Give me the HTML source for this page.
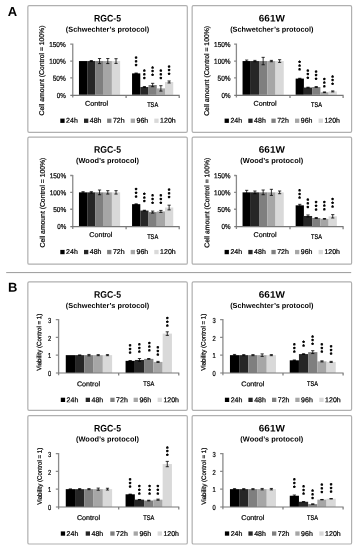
<!DOCTYPE html>
<html><head><meta charset="utf-8"><title>Figure</title>
<style>html,body{margin:0;padding:0;background:#fff}svg{display:block;filter:blur(0.35px)}</style>
</head><body>
<svg width="357" height="550" viewBox="0 0 357 550" font-family='"Liberation Sans", sans-serif'>
<rect width="357" height="550" fill="#fff"/>
<text font-size="13" text-anchor="start" fill="#000" font-weight="bold" transform="translate(7.70 16.00) rotate(0.03)">A</text>
<text font-size="13" text-anchor="start" fill="#000" font-weight="bold" transform="translate(7.90 291.80) rotate(0.03)">B</text>
<path d="M6.2 272.6H351.2" stroke="#9a9a9a" stroke-width="1"/>
<rect x="27.85" y="5.65" width="159.45" height="126.75" rx="1.3" fill="#fff" stroke="#b0b0b0" stroke-width="1.2"/>
<text font-size="9.6" text-anchor="middle" fill="#000" font-weight="bold" transform="translate(107.50 21.50) rotate(0.03) scale(0.9042 1)">RGC-5</text>
<text font-size="7.3" text-anchor="middle" fill="#000" font-weight="bold" transform="translate(107.50 31.70) rotate(0.03) scale(1.0033 1)">(Schwechter’s protocol)</text>
<text font-size="7.2" text-anchor="end" fill="#000" stroke="#000" stroke-width="0.22" transform="translate(65.70 47.00) rotate(0.03) scale(0.8972 1)">150%</text>
<text font-size="7.2" text-anchor="end" fill="#000" stroke="#000" stroke-width="0.22" transform="translate(65.70 63.87) rotate(0.03) scale(0.8972 1)">100%</text>
<text font-size="7.2" text-anchor="end" fill="#000" stroke="#000" stroke-width="0.22" transform="translate(65.70 80.74) rotate(0.03) scale(0.9034 1)">50%</text>
<text font-size="7.2" text-anchor="end" fill="#000" stroke="#000" stroke-width="0.22" transform="translate(65.70 97.61) rotate(0.03) scale(0.8662 1)">0%</text>
<path d="M72.75 43.60V97.60M70.20 44.20H72.75M70.20 61.07H72.75M70.20 77.94H72.75" stroke="#8a8a8a" stroke-width="1.3" fill="none"/>
<text font-size="6.8" text-anchor="middle" fill="#000" stroke="#000" stroke-width="0.22" transform="translate(44.00 70.50) rotate(-89.97) scale(1.0030 1)">Cell amount (Control = 100%)</text>
<rect x="78.95" y="61.06" width="8.24" height="33.74" fill="#000000"/>
<rect x="87.19" y="61.06" width="8.24" height="33.74" fill="#262626"/>
<path d="M91.31 60.55V61.57M89.71 60.55h3.2M89.71 61.57h3.2" stroke="#000" stroke-width="0.8" fill="none"/>
<rect x="95.43" y="61.06" width="8.24" height="33.74" fill="#7f7f7f"/>
<path d="M99.55 58.53V63.59M97.95 58.53h3.2M97.95 63.59h3.2" stroke="#000" stroke-width="0.8" fill="none"/>
<rect x="103.67" y="61.06" width="8.24" height="33.74" fill="#a6a6a6"/>
<path d="M107.79 58.53V63.59M106.19 58.53h3.2M106.19 63.59h3.2" stroke="#000" stroke-width="0.8" fill="none"/>
<rect x="111.91" y="61.06" width="8.24" height="33.74" fill="#d9d9d9"/>
<path d="M116.03 58.70V63.42M114.43 58.70h3.2M114.43 63.42h3.2" stroke="#000" stroke-width="0.8" fill="none"/>
<rect x="132.05" y="73.38" width="8.24" height="21.42" fill="#000000"/>
<path d="M136.17 73.04V73.71M134.57 73.04h3.2M134.57 73.71h3.2" stroke="#000" stroke-width="0.8" fill="none"/>
<rect x="140.29" y="87.04" width="8.24" height="7.76" fill="#262626"/>
<path d="M144.41 86.53V87.55M142.81 86.53h3.2M142.81 87.55h3.2" stroke="#000" stroke-width="0.8" fill="none"/>
<rect x="148.53" y="85.02" width="8.24" height="9.78" fill="#7f7f7f"/>
<path d="M152.65 83.33V86.70M151.05 83.33h3.2M151.05 86.70h3.2" stroke="#000" stroke-width="0.8" fill="none"/>
<rect x="156.77" y="88.39" width="8.24" height="6.41" fill="#a6a6a6"/>
<path d="M160.89 85.69V91.09M159.29 85.69h3.2M159.29 91.09h3.2" stroke="#000" stroke-width="0.8" fill="none"/>
<rect x="165.01" y="81.98" width="8.24" height="12.82" fill="#d9d9d9"/>
<path d="M169.13 80.97V82.99M167.53 80.97h3.2M167.53 82.99h3.2" stroke="#000" stroke-width="0.8" fill="none"/>
<path d="M70.30 95.40H179.70M126.10 95.40v2.6M179.20 95.40v2.6" stroke="#787878" stroke-width="1.2" fill="none"/>
<text font-size="7" text-anchor="middle" fill="#000" stroke="#000" stroke-width="0.22" transform="translate(96.65 105.80) rotate(0.03) scale(1.0231 1)">Control</text>
<text font-size="6.8" text-anchor="middle" fill="#000" stroke="#000" stroke-width="0.22" transform="translate(152.65 107.40) rotate(0.03) scale(0.8322 1)">TSA</text>
<text font-size="5.5" text-anchor="middle" fill="#000" font-weight="bold" transform="translate(136.07 60.25) rotate(0.03)" stroke="#000" stroke-width="0.55" stroke-linejoin="round">*</text>
<text font-size="5.5" text-anchor="middle" fill="#000" font-weight="bold" transform="translate(136.07 63.95) rotate(0.03)" stroke="#000" stroke-width="0.55" stroke-linejoin="round">*</text>
<text font-size="5.5" text-anchor="middle" fill="#000" font-weight="bold" transform="translate(136.07 67.65) rotate(0.03)" stroke="#000" stroke-width="0.55" stroke-linejoin="round">*</text>
<text font-size="5.5" text-anchor="middle" fill="#000" font-weight="bold" transform="translate(144.31 73.25) rotate(0.03)" stroke="#000" stroke-width="0.55" stroke-linejoin="round">*</text>
<text font-size="5.5" text-anchor="middle" fill="#000" font-weight="bold" transform="translate(144.31 76.95) rotate(0.03)" stroke="#000" stroke-width="0.55" stroke-linejoin="round">*</text>
<text font-size="5.5" text-anchor="middle" fill="#000" font-weight="bold" transform="translate(144.31 80.65) rotate(0.03)" stroke="#000" stroke-width="0.55" stroke-linejoin="round">*</text>
<text font-size="5.5" text-anchor="middle" fill="#000" font-weight="bold" transform="translate(152.55 70.15) rotate(0.03)" stroke="#000" stroke-width="0.55" stroke-linejoin="round">*</text>
<text font-size="5.5" text-anchor="middle" fill="#000" font-weight="bold" transform="translate(152.55 73.85) rotate(0.03)" stroke="#000" stroke-width="0.55" stroke-linejoin="round">*</text>
<text font-size="5.5" text-anchor="middle" fill="#000" font-weight="bold" transform="translate(152.55 77.55) rotate(0.03)" stroke="#000" stroke-width="0.55" stroke-linejoin="round">*</text>
<text font-size="5.5" text-anchor="middle" fill="#000" font-weight="bold" transform="translate(160.79 73.25) rotate(0.03)" stroke="#000" stroke-width="0.55" stroke-linejoin="round">*</text>
<text font-size="5.5" text-anchor="middle" fill="#000" font-weight="bold" transform="translate(160.79 76.95) rotate(0.03)" stroke="#000" stroke-width="0.55" stroke-linejoin="round">*</text>
<text font-size="5.5" text-anchor="middle" fill="#000" font-weight="bold" transform="translate(160.79 80.65) rotate(0.03)" stroke="#000" stroke-width="0.55" stroke-linejoin="round">*</text>
<text font-size="5.5" text-anchor="middle" fill="#000" font-weight="bold" transform="translate(169.03 69.15) rotate(0.03)" stroke="#000" stroke-width="0.55" stroke-linejoin="round">*</text>
<text font-size="5.5" text-anchor="middle" fill="#000" font-weight="bold" transform="translate(169.03 72.85) rotate(0.03)" stroke="#000" stroke-width="0.55" stroke-linejoin="round">*</text>
<text font-size="5.5" text-anchor="middle" fill="#000" font-weight="bold" transform="translate(169.03 76.55) rotate(0.03)" stroke="#000" stroke-width="0.55" stroke-linejoin="round">*</text>
<rect x="60.30" y="118.60" width="4.3" height="4.3" fill="#000000"/>
<text font-size="7" text-anchor="start" fill="#000" stroke="#000" stroke-width="0.22" transform="translate(66.10 122.70) rotate(0.03)">24h</text>
<rect x="84.00" y="118.60" width="4.3" height="4.3" fill="#262626"/>
<text font-size="7" text-anchor="start" fill="#000" stroke="#000" stroke-width="0.22" transform="translate(89.80 122.70) rotate(0.03)">48h</text>
<rect x="107.10" y="118.60" width="4.3" height="4.3" fill="#7f7f7f"/>
<text font-size="7" text-anchor="start" fill="#000" stroke="#000" stroke-width="0.22" transform="translate(112.90 122.70) rotate(0.03)">72h</text>
<rect x="130.70" y="118.60" width="4.3" height="4.3" fill="#a6a6a6"/>
<text font-size="7" text-anchor="start" fill="#000" stroke="#000" stroke-width="0.22" transform="translate(136.50 122.70) rotate(0.03)">96h</text>
<rect x="154.30" y="118.60" width="4.3" height="4.3" fill="#d9d9d9"/>
<text font-size="7" text-anchor="start" fill="#000" stroke="#000" stroke-width="0.22" transform="translate(160.10 122.70) rotate(0.03)">120h</text>
<rect x="192.15" y="5.65" width="159.45" height="126.75" rx="1.3" fill="#fff" stroke="#b0b0b0" stroke-width="1.2"/>
<text font-size="9.6" text-anchor="middle" fill="#000" font-weight="bold" transform="translate(271.80 21.50) rotate(0.03) scale(1.0374 1)">661W</text>
<text font-size="7.3" text-anchor="middle" fill="#000" font-weight="bold" transform="translate(271.80 31.70) rotate(0.03) scale(1.0033 1)">(Schwetcher’s protocol)</text>
<text font-size="7.2" text-anchor="end" fill="#000" stroke="#000" stroke-width="0.22" transform="translate(230.60 47.00) rotate(0.03) scale(0.8972 1)">150%</text>
<text font-size="7.2" text-anchor="end" fill="#000" stroke="#000" stroke-width="0.22" transform="translate(230.60 63.87) rotate(0.03) scale(0.8972 1)">100%</text>
<text font-size="7.2" text-anchor="end" fill="#000" stroke="#000" stroke-width="0.22" transform="translate(230.60 80.74) rotate(0.03) scale(0.9034 1)">50%</text>
<text font-size="7.2" text-anchor="end" fill="#000" stroke="#000" stroke-width="0.22" transform="translate(230.60 97.61) rotate(0.03) scale(0.8662 1)">0%</text>
<path d="M236.40 43.60V97.60M234.10 44.20H236.40M234.10 61.07H236.40M234.10 77.94H236.40" stroke="#8a8a8a" stroke-width="1.3" fill="none"/>
<text font-size="6.8" text-anchor="middle" fill="#000" stroke="#000" stroke-width="0.22" transform="translate(208.90 70.90) rotate(-89.97) scale(1.0030 1)">Cell amount (Control = 100%)</text>
<rect x="242.55" y="61.06" width="8.24" height="33.74" fill="#000000"/>
<path d="M246.67 60.05V62.07M245.07 60.05h3.2M245.07 62.07h3.2" stroke="#000" stroke-width="0.8" fill="none"/>
<rect x="250.79" y="61.06" width="8.24" height="33.74" fill="#262626"/>
<path d="M254.91 60.39V61.73M253.31 60.39h3.2M253.31 61.73h3.2" stroke="#000" stroke-width="0.8" fill="none"/>
<rect x="259.03" y="61.06" width="8.24" height="33.74" fill="#7f7f7f"/>
<path d="M263.15 57.35V64.77M261.55 57.35h3.2M261.55 64.77h3.2" stroke="#000" stroke-width="0.8" fill="none"/>
<rect x="267.27" y="61.06" width="8.24" height="33.74" fill="#a6a6a6"/>
<path d="M271.39 60.39V61.73M269.79 60.39h3.2M269.79 61.73h3.2" stroke="#000" stroke-width="0.8" fill="none"/>
<rect x="275.51" y="61.06" width="8.24" height="33.74" fill="#d9d9d9"/>
<path d="M279.63 59.71V62.41M278.03 59.71h3.2M278.03 62.41h3.2" stroke="#000" stroke-width="0.8" fill="none"/>
<rect x="295.65" y="78.60" width="8.24" height="16.20" fill="#000000"/>
<path d="M299.77 78.27V78.94M298.17 78.27h3.2M298.17 78.94h3.2" stroke="#000" stroke-width="0.8" fill="none"/>
<rect x="303.89" y="87.55" width="8.24" height="7.25" fill="#262626"/>
<path d="M308.01 87.21V87.88M306.41 87.21h3.2M306.41 87.88h3.2" stroke="#000" stroke-width="0.8" fill="none"/>
<rect x="312.13" y="87.04" width="8.24" height="7.76" fill="#7f7f7f"/>
<path d="M316.25 86.53V87.55M314.65 86.53h3.2M314.65 87.55h3.2" stroke="#000" stroke-width="0.8" fill="none"/>
<rect x="320.37" y="92.27" width="8.24" height="2.53" fill="#a6a6a6"/>
<path d="M324.49 91.93V92.61M322.89 91.93h3.2M322.89 92.61h3.2" stroke="#000" stroke-width="0.8" fill="none"/>
<rect x="328.61" y="91.43" width="8.24" height="3.37" fill="#d9d9d9"/>
<path d="M332.73 90.92V91.93M331.13 90.92h3.2M331.13 91.93h3.2" stroke="#000" stroke-width="0.8" fill="none"/>
<path d="M234.20 95.40H343.60M290.00 95.40v2.6M343.10 95.40v2.6" stroke="#787878" stroke-width="1.2" fill="none"/>
<text font-size="7" text-anchor="middle" fill="#000" stroke="#000" stroke-width="0.22" transform="translate(265.05 105.80) rotate(0.03) scale(1.0231 1)">Control</text>
<text font-size="6.8" text-anchor="middle" fill="#000" stroke="#000" stroke-width="0.22" transform="translate(316.55 107.40) rotate(0.03) scale(0.8322 1)">TSA</text>
<text font-size="5.5" text-anchor="middle" fill="#000" font-weight="bold" transform="translate(299.67 64.55) rotate(0.03)" stroke="#000" stroke-width="0.55" stroke-linejoin="round">*</text>
<text font-size="5.5" text-anchor="middle" fill="#000" font-weight="bold" transform="translate(299.67 68.25) rotate(0.03)" stroke="#000" stroke-width="0.55" stroke-linejoin="round">*</text>
<text font-size="5.5" text-anchor="middle" fill="#000" font-weight="bold" transform="translate(299.67 71.95) rotate(0.03)" stroke="#000" stroke-width="0.55" stroke-linejoin="round">*</text>
<text font-size="5.5" text-anchor="middle" fill="#000" font-weight="bold" transform="translate(307.91 73.15) rotate(0.03)" stroke="#000" stroke-width="0.55" stroke-linejoin="round">*</text>
<text font-size="5.5" text-anchor="middle" fill="#000" font-weight="bold" transform="translate(307.91 76.85) rotate(0.03)" stroke="#000" stroke-width="0.55" stroke-linejoin="round">*</text>
<text font-size="5.5" text-anchor="middle" fill="#000" font-weight="bold" transform="translate(307.91 80.55) rotate(0.03)" stroke="#000" stroke-width="0.55" stroke-linejoin="round">*</text>
<text font-size="5.5" text-anchor="middle" fill="#000" font-weight="bold" transform="translate(316.15 74.15) rotate(0.03)" stroke="#000" stroke-width="0.55" stroke-linejoin="round">*</text>
<text font-size="5.5" text-anchor="middle" fill="#000" font-weight="bold" transform="translate(316.15 77.85) rotate(0.03)" stroke="#000" stroke-width="0.55" stroke-linejoin="round">*</text>
<text font-size="5.5" text-anchor="middle" fill="#000" font-weight="bold" transform="translate(316.15 81.55) rotate(0.03)" stroke="#000" stroke-width="0.55" stroke-linejoin="round">*</text>
<text font-size="5.5" text-anchor="middle" fill="#000" font-weight="bold" transform="translate(324.39 81.65) rotate(0.03)" stroke="#000" stroke-width="0.55" stroke-linejoin="round">*</text>
<text font-size="5.5" text-anchor="middle" fill="#000" font-weight="bold" transform="translate(324.39 85.35) rotate(0.03)" stroke="#000" stroke-width="0.55" stroke-linejoin="round">*</text>
<text font-size="5.5" text-anchor="middle" fill="#000" font-weight="bold" transform="translate(324.39 89.05) rotate(0.03)" stroke="#000" stroke-width="0.55" stroke-linejoin="round">*</text>
<text font-size="5.5" text-anchor="middle" fill="#000" font-weight="bold" transform="translate(332.63 79.15) rotate(0.03)" stroke="#000" stroke-width="0.55" stroke-linejoin="round">*</text>
<text font-size="5.5" text-anchor="middle" fill="#000" font-weight="bold" transform="translate(332.63 82.85) rotate(0.03)" stroke="#000" stroke-width="0.55" stroke-linejoin="round">*</text>
<text font-size="5.5" text-anchor="middle" fill="#000" font-weight="bold" transform="translate(332.63 86.55) rotate(0.03)" stroke="#000" stroke-width="0.55" stroke-linejoin="round">*</text>
<rect x="224.60" y="118.60" width="4.3" height="4.3" fill="#000000"/>
<text font-size="7" text-anchor="start" fill="#000" stroke="#000" stroke-width="0.22" transform="translate(230.40 122.70) rotate(0.03)">24h</text>
<rect x="248.30" y="118.60" width="4.3" height="4.3" fill="#262626"/>
<text font-size="7" text-anchor="start" fill="#000" stroke="#000" stroke-width="0.22" transform="translate(254.10 122.70) rotate(0.03)">48h</text>
<rect x="271.40" y="118.60" width="4.3" height="4.3" fill="#7f7f7f"/>
<text font-size="7" text-anchor="start" fill="#000" stroke="#000" stroke-width="0.22" transform="translate(277.20 122.70) rotate(0.03)">72h</text>
<rect x="295.00" y="118.60" width="4.3" height="4.3" fill="#a6a6a6"/>
<text font-size="7" text-anchor="start" fill="#000" stroke="#000" stroke-width="0.22" transform="translate(300.80 122.70) rotate(0.03)">96h</text>
<rect x="318.60" y="118.60" width="4.3" height="4.3" fill="#d9d9d9"/>
<text font-size="7" text-anchor="start" fill="#000" stroke="#000" stroke-width="0.22" transform="translate(324.40 122.70) rotate(0.03)">120h</text>
<rect x="27.85" y="137.15" width="159.45" height="127.05" rx="1.3" fill="#fff" stroke="#b0b0b0" stroke-width="1.2"/>
<text font-size="9.6" text-anchor="middle" fill="#000" font-weight="bold" transform="translate(107.50 152.80) rotate(0.03) scale(0.9042 1)">RGC-5</text>
<text font-size="7.3" text-anchor="middle" fill="#000" font-weight="bold" transform="translate(107.50 163.00) rotate(0.03) scale(1.0159 1)">(Wood’s protocol)</text>
<text font-size="7.2" text-anchor="end" fill="#000" stroke="#000" stroke-width="0.22" transform="translate(66.20 178.30) rotate(0.03) scale(0.8972 1)">150%</text>
<text font-size="7.2" text-anchor="end" fill="#000" stroke="#000" stroke-width="0.22" transform="translate(66.20 195.17) rotate(0.03) scale(0.8972 1)">100%</text>
<text font-size="7.2" text-anchor="end" fill="#000" stroke="#000" stroke-width="0.22" transform="translate(66.20 212.04) rotate(0.03) scale(0.9034 1)">50%</text>
<text font-size="7.2" text-anchor="end" fill="#000" stroke="#000" stroke-width="0.22" transform="translate(66.20 228.91) rotate(0.03) scale(0.8662 1)">0%</text>
<path d="M72.75 174.90V228.90M70.20 175.50H72.75M70.20 192.37H72.75M70.20 209.24H72.75" stroke="#8a8a8a" stroke-width="1.3" fill="none"/>
<text font-size="6.8" text-anchor="middle" fill="#000" stroke="#000" stroke-width="0.22" transform="translate(44.80 202.60) rotate(-89.97) scale(1.0030 1)">Cell amount (Control = 100%)</text>
<rect x="78.95" y="192.36" width="8.24" height="33.74" fill="#000000"/>
<path d="M83.07 191.69V193.03M81.47 191.69h3.2M81.47 193.03h3.2" stroke="#000" stroke-width="0.8" fill="none"/>
<rect x="87.19" y="192.36" width="8.24" height="33.74" fill="#262626"/>
<path d="M91.31 191.69V193.03M89.71 191.69h3.2M89.71 193.03h3.2" stroke="#000" stroke-width="0.8" fill="none"/>
<rect x="95.43" y="192.36" width="8.24" height="33.74" fill="#7f7f7f"/>
<path d="M99.55 190.00V194.72M97.95 190.00h3.2M97.95 194.72h3.2" stroke="#000" stroke-width="0.8" fill="none"/>
<rect x="103.67" y="192.36" width="8.24" height="33.74" fill="#a6a6a6"/>
<path d="M107.79 190.67V194.05M106.19 190.67h3.2M106.19 194.05h3.2" stroke="#000" stroke-width="0.8" fill="none"/>
<rect x="111.91" y="192.36" width="8.24" height="33.74" fill="#d9d9d9"/>
<path d="M116.03 190.67V194.05M114.43 190.67h3.2M114.43 194.05h3.2" stroke="#000" stroke-width="0.8" fill="none"/>
<rect x="132.05" y="204.17" width="8.24" height="21.93" fill="#000000"/>
<path d="M136.17 203.83V204.51M134.57 203.83h3.2M134.57 204.51h3.2" stroke="#000" stroke-width="0.8" fill="none"/>
<rect x="140.29" y="210.58" width="8.24" height="15.52" fill="#262626"/>
<path d="M144.41 210.24V210.92M142.81 210.24h3.2M142.81 210.92h3.2" stroke="#000" stroke-width="0.8" fill="none"/>
<rect x="148.53" y="212.10" width="8.24" height="14.00" fill="#7f7f7f"/>
<path d="M152.65 211.09V213.11M151.05 211.09h3.2M151.05 213.11h3.2" stroke="#000" stroke-width="0.8" fill="none"/>
<rect x="156.77" y="211.42" width="8.24" height="14.68" fill="#a6a6a6"/>
<path d="M160.89 210.41V212.44M159.29 210.41h3.2M159.29 212.44h3.2" stroke="#000" stroke-width="0.8" fill="none"/>
<rect x="165.01" y="207.54" width="8.24" height="18.56" fill="#d9d9d9"/>
<path d="M169.13 205.18V209.90M167.53 205.18h3.2M167.53 209.90h3.2" stroke="#000" stroke-width="0.8" fill="none"/>
<path d="M70.30 226.70H179.70M126.10 226.70v2.6M179.20 226.70v2.6" stroke="#787878" stroke-width="1.2" fill="none"/>
<text font-size="7" text-anchor="middle" fill="#000" stroke="#000" stroke-width="0.22" transform="translate(100.85 237.10) rotate(0.03) scale(1.0231 1)">Control</text>
<text font-size="6.8" text-anchor="middle" fill="#000" stroke="#000" stroke-width="0.22" transform="translate(152.65 238.70) rotate(0.03) scale(0.8322 1)">TSA</text>
<text font-size="5.5" text-anchor="middle" fill="#000" font-weight="bold" transform="translate(136.07 191.85) rotate(0.03)" stroke="#000" stroke-width="0.55" stroke-linejoin="round">*</text>
<text font-size="5.5" text-anchor="middle" fill="#000" font-weight="bold" transform="translate(136.07 195.55) rotate(0.03)" stroke="#000" stroke-width="0.55" stroke-linejoin="round">*</text>
<text font-size="5.5" text-anchor="middle" fill="#000" font-weight="bold" transform="translate(136.07 199.25) rotate(0.03)" stroke="#000" stroke-width="0.55" stroke-linejoin="round">*</text>
<text font-size="5.5" text-anchor="middle" fill="#000" font-weight="bold" transform="translate(144.31 196.45) rotate(0.03)" stroke="#000" stroke-width="0.55" stroke-linejoin="round">*</text>
<text font-size="5.5" text-anchor="middle" fill="#000" font-weight="bold" transform="translate(144.31 200.15) rotate(0.03)" stroke="#000" stroke-width="0.55" stroke-linejoin="round">*</text>
<text font-size="5.5" text-anchor="middle" fill="#000" font-weight="bold" transform="translate(144.31 203.85) rotate(0.03)" stroke="#000" stroke-width="0.55" stroke-linejoin="round">*</text>
<text font-size="5.5" text-anchor="middle" fill="#000" font-weight="bold" transform="translate(152.55 198.05) rotate(0.03)" stroke="#000" stroke-width="0.55" stroke-linejoin="round">*</text>
<text font-size="5.5" text-anchor="middle" fill="#000" font-weight="bold" transform="translate(152.55 201.75) rotate(0.03)" stroke="#000" stroke-width="0.55" stroke-linejoin="round">*</text>
<text font-size="5.5" text-anchor="middle" fill="#000" font-weight="bold" transform="translate(152.55 205.45) rotate(0.03)" stroke="#000" stroke-width="0.55" stroke-linejoin="round">*</text>
<text font-size="5.5" text-anchor="middle" fill="#000" font-weight="bold" transform="translate(160.79 198.05) rotate(0.03)" stroke="#000" stroke-width="0.55" stroke-linejoin="round">*</text>
<text font-size="5.5" text-anchor="middle" fill="#000" font-weight="bold" transform="translate(160.79 201.75) rotate(0.03)" stroke="#000" stroke-width="0.55" stroke-linejoin="round">*</text>
<text font-size="5.5" text-anchor="middle" fill="#000" font-weight="bold" transform="translate(160.79 205.45) rotate(0.03)" stroke="#000" stroke-width="0.55" stroke-linejoin="round">*</text>
<text font-size="5.5" text-anchor="middle" fill="#000" font-weight="bold" transform="translate(169.03 192.35) rotate(0.03)" stroke="#000" stroke-width="0.55" stroke-linejoin="round">*</text>
<text font-size="5.5" text-anchor="middle" fill="#000" font-weight="bold" transform="translate(169.03 196.05) rotate(0.03)" stroke="#000" stroke-width="0.55" stroke-linejoin="round">*</text>
<text font-size="5.5" text-anchor="middle" fill="#000" font-weight="bold" transform="translate(169.03 199.75) rotate(0.03)" stroke="#000" stroke-width="0.55" stroke-linejoin="round">*</text>
<rect x="60.30" y="249.90" width="4.3" height="4.3" fill="#000000"/>
<text font-size="7" text-anchor="start" fill="#000" stroke="#000" stroke-width="0.22" transform="translate(66.10 254.00) rotate(0.03)">24h</text>
<rect x="84.00" y="249.90" width="4.3" height="4.3" fill="#262626"/>
<text font-size="7" text-anchor="start" fill="#000" stroke="#000" stroke-width="0.22" transform="translate(89.80 254.00) rotate(0.03)">48h</text>
<rect x="107.10" y="249.90" width="4.3" height="4.3" fill="#7f7f7f"/>
<text font-size="7" text-anchor="start" fill="#000" stroke="#000" stroke-width="0.22" transform="translate(112.90 254.00) rotate(0.03)">72h</text>
<rect x="130.70" y="249.90" width="4.3" height="4.3" fill="#a6a6a6"/>
<text font-size="7" text-anchor="start" fill="#000" stroke="#000" stroke-width="0.22" transform="translate(136.50 254.00) rotate(0.03)">96h</text>
<rect x="154.30" y="249.90" width="4.3" height="4.3" fill="#d9d9d9"/>
<text font-size="7" text-anchor="start" fill="#000" stroke="#000" stroke-width="0.22" transform="translate(160.10 254.00) rotate(0.03)">120h</text>
<rect x="192.15" y="137.15" width="159.45" height="127.05" rx="1.3" fill="#fff" stroke="#b0b0b0" stroke-width="1.2"/>
<text font-size="9.6" text-anchor="middle" fill="#000" font-weight="bold" transform="translate(271.80 152.80) rotate(0.03) scale(1.0374 1)">661W</text>
<text font-size="7.3" text-anchor="middle" fill="#000" font-weight="bold" transform="translate(271.80 163.00) rotate(0.03) scale(1.0159 1)">(Wood’s protocol)</text>
<text font-size="7.2" text-anchor="end" fill="#000" stroke="#000" stroke-width="0.22" transform="translate(230.60 178.30) rotate(0.03) scale(0.8972 1)">150%</text>
<text font-size="7.2" text-anchor="end" fill="#000" stroke="#000" stroke-width="0.22" transform="translate(230.60 195.17) rotate(0.03) scale(0.8972 1)">100%</text>
<text font-size="7.2" text-anchor="end" fill="#000" stroke="#000" stroke-width="0.22" transform="translate(230.60 212.04) rotate(0.03) scale(0.9034 1)">50%</text>
<text font-size="7.2" text-anchor="end" fill="#000" stroke="#000" stroke-width="0.22" transform="translate(230.60 228.91) rotate(0.03) scale(0.8662 1)">0%</text>
<path d="M236.40 174.90V228.90M234.10 175.50H236.40M234.10 192.37H236.40M234.10 209.24H236.40" stroke="#8a8a8a" stroke-width="1.3" fill="none"/>
<text font-size="6.8" text-anchor="middle" fill="#000" stroke="#000" stroke-width="0.22" transform="translate(209.20 202.70) rotate(-89.97) scale(1.0030 1)">Cell amount (Control = 100%)</text>
<rect x="242.55" y="192.36" width="8.24" height="33.74" fill="#000000"/>
<path d="M246.67 190.34V194.38M245.07 190.34h3.2M245.07 194.38h3.2" stroke="#000" stroke-width="0.8" fill="none"/>
<rect x="250.79" y="192.36" width="8.24" height="33.74" fill="#262626"/>
<path d="M254.91 191.01V193.71M253.31 191.01h3.2M253.31 193.71h3.2" stroke="#000" stroke-width="0.8" fill="none"/>
<rect x="259.03" y="192.36" width="8.24" height="33.74" fill="#7f7f7f"/>
<path d="M263.15 190.00V194.72M261.55 190.00h3.2M261.55 194.72h3.2" stroke="#000" stroke-width="0.8" fill="none"/>
<rect x="267.27" y="192.36" width="8.24" height="33.74" fill="#a6a6a6"/>
<path d="M271.39 189.32V195.40M269.79 189.32h3.2M269.79 195.40h3.2" stroke="#000" stroke-width="0.8" fill="none"/>
<rect x="275.51" y="192.36" width="8.24" height="33.74" fill="#d9d9d9"/>
<path d="M279.63 191.01V193.71M278.03 191.01h3.2M278.03 193.71h3.2" stroke="#000" stroke-width="0.8" fill="none"/>
<rect x="295.65" y="205.35" width="8.24" height="20.75" fill="#000000"/>
<path d="M299.77 204.34V206.36M298.17 204.34h3.2M298.17 206.36h3.2" stroke="#000" stroke-width="0.8" fill="none"/>
<rect x="303.89" y="215.98" width="8.24" height="10.12" fill="#262626"/>
<path d="M308.01 214.97V216.99M306.41 214.97h3.2M306.41 216.99h3.2" stroke="#000" stroke-width="0.8" fill="none"/>
<rect x="312.13" y="218.00" width="8.24" height="8.10" fill="#7f7f7f"/>
<path d="M316.25 217.50V218.51M314.65 217.50h3.2M314.65 218.51h3.2" stroke="#000" stroke-width="0.8" fill="none"/>
<rect x="320.37" y="218.85" width="8.24" height="7.25" fill="#a6a6a6"/>
<path d="M324.49 218.51V219.18M322.89 218.51h3.2M322.89 219.18h3.2" stroke="#000" stroke-width="0.8" fill="none"/>
<rect x="328.61" y="216.32" width="8.24" height="9.78" fill="#d9d9d9"/>
<path d="M332.73 214.63V218.00M331.13 214.63h3.2M331.13 218.00h3.2" stroke="#000" stroke-width="0.8" fill="none"/>
<path d="M234.20 226.70H343.60M290.00 226.70v2.6M343.10 226.70v2.6" stroke="#787878" stroke-width="1.2" fill="none"/>
<text font-size="7" text-anchor="middle" fill="#000" stroke="#000" stroke-width="0.22" transform="translate(265.05 237.10) rotate(0.03) scale(1.0231 1)">Control</text>
<text font-size="6.8" text-anchor="middle" fill="#000" stroke="#000" stroke-width="0.22" transform="translate(316.55 238.70) rotate(0.03) scale(0.8322 1)">TSA</text>
<text font-size="5.5" text-anchor="middle" fill="#000" font-weight="bold" transform="translate(299.67 192.95) rotate(0.03)" stroke="#000" stroke-width="0.55" stroke-linejoin="round">*</text>
<text font-size="5.5" text-anchor="middle" fill="#000" font-weight="bold" transform="translate(299.67 196.65) rotate(0.03)" stroke="#000" stroke-width="0.55" stroke-linejoin="round">*</text>
<text font-size="5.5" text-anchor="middle" fill="#000" font-weight="bold" transform="translate(299.67 200.35) rotate(0.03)" stroke="#000" stroke-width="0.55" stroke-linejoin="round">*</text>
<text font-size="5.5" text-anchor="middle" fill="#000" font-weight="bold" transform="translate(307.91 202.25) rotate(0.03)" stroke="#000" stroke-width="0.55" stroke-linejoin="round">*</text>
<text font-size="5.5" text-anchor="middle" fill="#000" font-weight="bold" transform="translate(307.91 205.95) rotate(0.03)" stroke="#000" stroke-width="0.55" stroke-linejoin="round">*</text>
<text font-size="5.5" text-anchor="middle" fill="#000" font-weight="bold" transform="translate(307.91 209.65) rotate(0.03)" stroke="#000" stroke-width="0.55" stroke-linejoin="round">*</text>
<text font-size="5.5" text-anchor="middle" fill="#000" font-weight="bold" transform="translate(316.15 204.75) rotate(0.03)" stroke="#000" stroke-width="0.55" stroke-linejoin="round">*</text>
<text font-size="5.5" text-anchor="middle" fill="#000" font-weight="bold" transform="translate(316.15 208.45) rotate(0.03)" stroke="#000" stroke-width="0.55" stroke-linejoin="round">*</text>
<text font-size="5.5" text-anchor="middle" fill="#000" font-weight="bold" transform="translate(316.15 212.15) rotate(0.03)" stroke="#000" stroke-width="0.55" stroke-linejoin="round">*</text>
<text font-size="5.5" text-anchor="middle" fill="#000" font-weight="bold" transform="translate(324.39 204.65) rotate(0.03)" stroke="#000" stroke-width="0.55" stroke-linejoin="round">*</text>
<text font-size="5.5" text-anchor="middle" fill="#000" font-weight="bold" transform="translate(324.39 208.35) rotate(0.03)" stroke="#000" stroke-width="0.55" stroke-linejoin="round">*</text>
<text font-size="5.5" text-anchor="middle" fill="#000" font-weight="bold" transform="translate(324.39 212.05) rotate(0.03)" stroke="#000" stroke-width="0.55" stroke-linejoin="round">*</text>
<text font-size="5.5" text-anchor="middle" fill="#000" font-weight="bold" transform="translate(332.63 201.85) rotate(0.03)" stroke="#000" stroke-width="0.55" stroke-linejoin="round">*</text>
<text font-size="5.5" text-anchor="middle" fill="#000" font-weight="bold" transform="translate(332.63 205.55) rotate(0.03)" stroke="#000" stroke-width="0.55" stroke-linejoin="round">*</text>
<text font-size="5.5" text-anchor="middle" fill="#000" font-weight="bold" transform="translate(332.63 209.25) rotate(0.03)" stroke="#000" stroke-width="0.55" stroke-linejoin="round">*</text>
<rect x="224.60" y="249.90" width="4.3" height="4.3" fill="#000000"/>
<text font-size="7" text-anchor="start" fill="#000" stroke="#000" stroke-width="0.22" transform="translate(230.40 254.00) rotate(0.03)">24h</text>
<rect x="248.30" y="249.90" width="4.3" height="4.3" fill="#262626"/>
<text font-size="7" text-anchor="start" fill="#000" stroke="#000" stroke-width="0.22" transform="translate(254.10 254.00) rotate(0.03)">48h</text>
<rect x="271.40" y="249.90" width="4.3" height="4.3" fill="#7f7f7f"/>
<text font-size="7" text-anchor="start" fill="#000" stroke="#000" stroke-width="0.22" transform="translate(277.20 254.00) rotate(0.03)">72h</text>
<rect x="295.00" y="249.90" width="4.3" height="4.3" fill="#a6a6a6"/>
<text font-size="7" text-anchor="start" fill="#000" stroke="#000" stroke-width="0.22" transform="translate(300.80 254.00) rotate(0.03)">96h</text>
<rect x="318.60" y="249.90" width="4.3" height="4.3" fill="#d9d9d9"/>
<text font-size="7" text-anchor="start" fill="#000" stroke="#000" stroke-width="0.22" transform="translate(324.40 254.00) rotate(0.03)">120h</text>
<rect x="27.85" y="281.85" width="159.45" height="128.45" rx="1.3" fill="#fff" stroke="#b0b0b0" stroke-width="1.2"/>
<text font-size="9.6" text-anchor="middle" fill="#000" font-weight="bold" transform="translate(107.50 297.70) rotate(0.03) scale(0.9042 1)">RGC-5</text>
<text font-size="7.3" text-anchor="middle" fill="#000" font-weight="bold" transform="translate(107.50 307.90) rotate(0.03) scale(1.0033 1)">(Schwechter’s protocol)</text>
<text font-size="7.2" text-anchor="end" fill="#000" stroke="#000" stroke-width="0.22" transform="translate(51.30 322.75) rotate(0.03) scale(0.8000 1)">3</text>
<text font-size="7.2" text-anchor="end" fill="#000" stroke="#000" stroke-width="0.22" transform="translate(51.30 340.55) rotate(0.03) scale(0.8000 1)">2</text>
<text font-size="7.2" text-anchor="end" fill="#000" stroke="#000" stroke-width="0.22" transform="translate(51.30 358.35) rotate(0.03) scale(0.8000 1)">1</text>
<text font-size="7.2" text-anchor="end" fill="#000" stroke="#000" stroke-width="0.22" transform="translate(51.30 376.15) rotate(0.03) scale(0.8000 1)">0</text>
<path d="M58.60 318.95V375.35M55.80 319.55H58.60M55.80 337.35H58.60M55.80 355.15H58.60" stroke="#8a8a8a" stroke-width="1.3" fill="none"/>
<text font-size="6.4" text-anchor="middle" fill="#000" stroke="#000" stroke-width="0.22" transform="translate(41.30 342.20) rotate(-89.97) scale(0.9597 1)">Viability (Control = 1)</text>
<rect x="65.77" y="355.15" width="9.27" height="17.80" fill="#000000"/>
<rect x="75.04" y="355.15" width="9.27" height="17.80" fill="#262626"/>
<path d="M79.68 354.97V355.33M78.08 354.97h3.2M78.08 355.33h3.2" stroke="#000" stroke-width="0.8" fill="none"/>
<rect x="84.31" y="355.15" width="9.27" height="17.80" fill="#7f7f7f"/>
<path d="M88.95 354.44V355.86M87.35 354.44h3.2M87.35 355.86h3.2" stroke="#000" stroke-width="0.8" fill="none"/>
<rect x="93.58" y="355.15" width="9.27" height="17.80" fill="#a6a6a6"/>
<path d="M98.22 354.62V355.68M96.62 354.62h3.2M96.62 355.68h3.2" stroke="#000" stroke-width="0.8" fill="none"/>
<rect x="102.85" y="355.15" width="9.27" height="17.80" fill="#d9d9d9"/>
<path d="M107.49 354.62V355.68M105.89 354.62h3.2M105.89 355.68h3.2" stroke="#000" stroke-width="0.8" fill="none"/>
<rect x="125.57" y="360.85" width="9.27" height="12.10" fill="#000000"/>
<path d="M130.21 360.67V361.02M128.61 360.67h3.2M128.61 361.02h3.2" stroke="#000" stroke-width="0.8" fill="none"/>
<rect x="134.84" y="359.96" width="9.27" height="12.99" fill="#262626"/>
<path d="M139.48 358.53V361.38M137.88 358.53h3.2M137.88 361.38h3.2" stroke="#000" stroke-width="0.8" fill="none"/>
<rect x="144.11" y="358.89" width="9.27" height="14.06" fill="#7f7f7f"/>
<path d="M148.75 358.53V359.24M147.15 358.53h3.2M147.15 359.24h3.2" stroke="#000" stroke-width="0.8" fill="none"/>
<rect x="153.38" y="361.91" width="9.27" height="11.04" fill="#a6a6a6"/>
<path d="M158.02 361.38V362.45M156.42 361.38h3.2M156.42 362.45h3.2" stroke="#000" stroke-width="0.8" fill="none"/>
<rect x="162.65" y="333.61" width="9.27" height="39.34" fill="#d9d9d9"/>
<path d="M167.29 331.83V335.39M165.69 331.83h3.2M165.69 335.39h3.2" stroke="#000" stroke-width="0.8" fill="none"/>
<path d="M55.90 373.00H179.30M118.70 373.00v2.6M178.80 373.00v2.6" stroke="#787878" stroke-width="1.2" fill="none"/>
<text font-size="7" text-anchor="middle" fill="#000" stroke="#000" stroke-width="0.22" transform="translate(88.45 386.30) rotate(0.03) scale(1.0231 1)">Control</text>
<text font-size="6.8" text-anchor="middle" fill="#000" stroke="#000" stroke-width="0.22" transform="translate(148.75 386.00) rotate(0.03) scale(0.8322 1)">TSA</text>
<text font-size="5.5" text-anchor="middle" fill="#000" font-weight="bold" transform="translate(130.11 347.95) rotate(0.03)" stroke="#000" stroke-width="0.55" stroke-linejoin="round">*</text>
<text font-size="5.5" text-anchor="middle" fill="#000" font-weight="bold" transform="translate(130.11 351.65) rotate(0.03)" stroke="#000" stroke-width="0.55" stroke-linejoin="round">*</text>
<text font-size="5.5" text-anchor="middle" fill="#000" font-weight="bold" transform="translate(130.11 355.35) rotate(0.03)" stroke="#000" stroke-width="0.55" stroke-linejoin="round">*</text>
<text font-size="5.5" text-anchor="middle" fill="#000" font-weight="bold" transform="translate(139.38 346.95) rotate(0.03)" stroke="#000" stroke-width="0.55" stroke-linejoin="round">*</text>
<text font-size="5.5" text-anchor="middle" fill="#000" font-weight="bold" transform="translate(139.38 350.65) rotate(0.03)" stroke="#000" stroke-width="0.55" stroke-linejoin="round">*</text>
<text font-size="5.5" text-anchor="middle" fill="#000" font-weight="bold" transform="translate(139.38 354.35) rotate(0.03)" stroke="#000" stroke-width="0.55" stroke-linejoin="round">*</text>
<text font-size="5.5" text-anchor="middle" fill="#000" font-weight="bold" transform="translate(149.35 345.65) rotate(0.03)" stroke="#000" stroke-width="0.55" stroke-linejoin="round">*</text>
<text font-size="5.5" text-anchor="middle" fill="#000" font-weight="bold" transform="translate(149.35 349.35) rotate(0.03)" stroke="#000" stroke-width="0.55" stroke-linejoin="round">*</text>
<text font-size="5.5" text-anchor="middle" fill="#000" font-weight="bold" transform="translate(149.35 353.05) rotate(0.03)" stroke="#000" stroke-width="0.55" stroke-linejoin="round">*</text>
<text font-size="5.5" text-anchor="middle" fill="#000" font-weight="bold" transform="translate(157.92 349.95) rotate(0.03)" stroke="#000" stroke-width="0.55" stroke-linejoin="round">*</text>
<text font-size="5.5" text-anchor="middle" fill="#000" font-weight="bold" transform="translate(157.92 353.65) rotate(0.03)" stroke="#000" stroke-width="0.55" stroke-linejoin="round">*</text>
<text font-size="5.5" text-anchor="middle" fill="#000" font-weight="bold" transform="translate(157.92 357.35) rotate(0.03)" stroke="#000" stroke-width="0.55" stroke-linejoin="round">*</text>
<text font-size="5.5" text-anchor="middle" fill="#000" font-weight="bold" transform="translate(167.19 320.85) rotate(0.03)" stroke="#000" stroke-width="0.55" stroke-linejoin="round">*</text>
<text font-size="5.5" text-anchor="middle" fill="#000" font-weight="bold" transform="translate(167.19 324.55) rotate(0.03)" stroke="#000" stroke-width="0.55" stroke-linejoin="round">*</text>
<text font-size="5.5" text-anchor="middle" fill="#000" font-weight="bold" transform="translate(167.19 328.25) rotate(0.03)" stroke="#000" stroke-width="0.55" stroke-linejoin="round">*</text>
<rect x="60.80" y="397.70" width="4.3" height="4.3" fill="#000000"/>
<text font-size="7" text-anchor="start" fill="#000" stroke="#000" stroke-width="0.22" transform="translate(66.60 402.20) rotate(0.03)">24h</text>
<rect x="85.70" y="397.70" width="4.3" height="4.3" fill="#262626"/>
<text font-size="7" text-anchor="start" fill="#000" stroke="#000" stroke-width="0.22" transform="translate(91.50 402.20) rotate(0.03)">48h</text>
<rect x="110.30" y="397.70" width="4.3" height="4.3" fill="#7f7f7f"/>
<text font-size="7" text-anchor="start" fill="#000" stroke="#000" stroke-width="0.22" transform="translate(116.10 402.20) rotate(0.03)">72h</text>
<rect x="133.60" y="397.70" width="4.3" height="4.3" fill="#a6a6a6"/>
<text font-size="7" text-anchor="start" fill="#000" stroke="#000" stroke-width="0.22" transform="translate(139.40 402.20) rotate(0.03)">96h</text>
<rect x="157.60" y="397.70" width="4.3" height="4.3" fill="#d9d9d9"/>
<text font-size="7" text-anchor="start" fill="#000" stroke="#000" stroke-width="0.22" transform="translate(163.40 402.20) rotate(0.03)">120h</text>
<rect x="192.15" y="281.85" width="159.45" height="128.45" rx="1.3" fill="#fff" stroke="#b0b0b0" stroke-width="1.2"/>
<text font-size="9.6" text-anchor="middle" fill="#000" font-weight="bold" transform="translate(271.80 297.70) rotate(0.03) scale(1.0374 1)">661W</text>
<text font-size="7.3" text-anchor="middle" fill="#000" font-weight="bold" transform="translate(271.80 307.90) rotate(0.03) scale(1.0033 1)">(Schwechter’s protocol)</text>
<text font-size="7.2" text-anchor="end" fill="#000" stroke="#000" stroke-width="0.22" transform="translate(215.60 322.75) rotate(0.03) scale(0.8000 1)">3</text>
<text font-size="7.2" text-anchor="end" fill="#000" stroke="#000" stroke-width="0.22" transform="translate(215.60 340.55) rotate(0.03) scale(0.8000 1)">2</text>
<text font-size="7.2" text-anchor="end" fill="#000" stroke="#000" stroke-width="0.22" transform="translate(215.60 358.35) rotate(0.03) scale(0.8000 1)">1</text>
<text font-size="7.2" text-anchor="end" fill="#000" stroke="#000" stroke-width="0.22" transform="translate(215.60 376.15) rotate(0.03) scale(0.8000 1)">0</text>
<path d="M222.90 318.95V375.35M220.10 319.55H222.90M220.10 337.35H222.90M220.10 355.15H222.90" stroke="#8a8a8a" stroke-width="1.3" fill="none"/>
<text font-size="6.4" text-anchor="middle" fill="#000" stroke="#000" stroke-width="0.22" transform="translate(205.60 342.20) rotate(-89.97) scale(0.9597 1)">Viability (Control = 1)</text>
<rect x="229.95" y="355.15" width="9.20" height="17.80" fill="#000000"/>
<path d="M234.55 354.44V355.86M232.95 354.44h3.2M232.95 355.86h3.2" stroke="#000" stroke-width="0.8" fill="none"/>
<rect x="239.15" y="355.15" width="9.20" height="17.80" fill="#262626"/>
<path d="M243.75 354.62V355.68M242.15 354.62h3.2M242.15 355.68h3.2" stroke="#000" stroke-width="0.8" fill="none"/>
<rect x="248.35" y="355.15" width="9.20" height="17.80" fill="#7f7f7f"/>
<path d="M252.95 354.62V355.68M251.35 354.62h3.2M251.35 355.68h3.2" stroke="#000" stroke-width="0.8" fill="none"/>
<rect x="257.55" y="355.15" width="9.20" height="17.80" fill="#a6a6a6"/>
<path d="M262.15 353.90V356.40M260.55 353.90h3.2M260.55 356.40h3.2" stroke="#000" stroke-width="0.8" fill="none"/>
<rect x="266.75" y="355.15" width="9.20" height="17.80" fill="#d9d9d9"/>
<path d="M271.35 354.62V355.68M269.75 354.62h3.2M269.75 355.68h3.2" stroke="#000" stroke-width="0.8" fill="none"/>
<rect x="289.75" y="360.31" width="9.20" height="12.64" fill="#000000"/>
<path d="M294.35 359.96V360.67M292.75 359.96h3.2M292.75 360.67h3.2" stroke="#000" stroke-width="0.8" fill="none"/>
<rect x="298.95" y="354.08" width="9.20" height="18.87" fill="#262626"/>
<path d="M303.55 353.73V354.44M301.95 353.73h3.2M301.95 354.44h3.2" stroke="#000" stroke-width="0.8" fill="none"/>
<rect x="308.15" y="352.12" width="9.20" height="20.83" fill="#7f7f7f"/>
<path d="M312.75 350.70V353.55M311.15 350.70h3.2M311.15 353.55h3.2" stroke="#000" stroke-width="0.8" fill="none"/>
<rect x="317.35" y="361.38" width="9.20" height="11.57" fill="#a6a6a6"/>
<path d="M321.95 360.85V361.91M320.35 360.85h3.2M320.35 361.91h3.2" stroke="#000" stroke-width="0.8" fill="none"/>
<rect x="326.55" y="361.91" width="9.20" height="11.04" fill="#d9d9d9"/>
<path d="M331.15 361.38V362.45M329.55 361.38h3.2M329.55 362.45h3.2" stroke="#000" stroke-width="0.8" fill="none"/>
<path d="M220.20 373.00H343.60M283.00 373.00v2.6M343.10 373.00v2.6" stroke="#787878" stroke-width="1.2" fill="none"/>
<text font-size="7" text-anchor="middle" fill="#000" stroke="#000" stroke-width="0.22" transform="translate(252.75 386.30) rotate(0.03) scale(1.0231 1)">Control</text>
<text font-size="6.8" text-anchor="middle" fill="#000" stroke="#000" stroke-width="0.22" transform="translate(312.55 386.00) rotate(0.03) scale(0.8322 1)">TSA</text>
<text font-size="5.5" text-anchor="middle" fill="#000" font-weight="bold" transform="translate(294.25 346.95) rotate(0.03)" stroke="#000" stroke-width="0.55" stroke-linejoin="round">*</text>
<text font-size="5.5" text-anchor="middle" fill="#000" font-weight="bold" transform="translate(294.25 350.65) rotate(0.03)" stroke="#000" stroke-width="0.55" stroke-linejoin="round">*</text>
<text font-size="5.5" text-anchor="middle" fill="#000" font-weight="bold" transform="translate(294.25 354.35) rotate(0.03)" stroke="#000" stroke-width="0.55" stroke-linejoin="round">*</text>
<text font-size="5.5" text-anchor="middle" fill="#000" font-weight="bold" transform="translate(303.45 344.60) rotate(0.03)" stroke="#000" stroke-width="0.55" stroke-linejoin="round">*</text>
<text font-size="5.5" text-anchor="middle" fill="#000" font-weight="bold" transform="translate(303.45 348.30) rotate(0.03)" stroke="#000" stroke-width="0.55" stroke-linejoin="round">*</text>
<text font-size="5.5" text-anchor="middle" fill="#000" font-weight="bold" transform="translate(312.65 339.15) rotate(0.03)" stroke="#000" stroke-width="0.55" stroke-linejoin="round">*</text>
<text font-size="5.5" text-anchor="middle" fill="#000" font-weight="bold" transform="translate(312.65 342.85) rotate(0.03)" stroke="#000" stroke-width="0.55" stroke-linejoin="round">*</text>
<text font-size="5.5" text-anchor="middle" fill="#000" font-weight="bold" transform="translate(312.65 346.55) rotate(0.03)" stroke="#000" stroke-width="0.55" stroke-linejoin="round">*</text>
<text font-size="5.5" text-anchor="middle" fill="#000" font-weight="bold" transform="translate(321.85 346.95) rotate(0.03)" stroke="#000" stroke-width="0.55" stroke-linejoin="round">*</text>
<text font-size="5.5" text-anchor="middle" fill="#000" font-weight="bold" transform="translate(321.85 350.65) rotate(0.03)" stroke="#000" stroke-width="0.55" stroke-linejoin="round">*</text>
<text font-size="5.5" text-anchor="middle" fill="#000" font-weight="bold" transform="translate(321.85 354.35) rotate(0.03)" stroke="#000" stroke-width="0.55" stroke-linejoin="round">*</text>
<text font-size="5.5" text-anchor="middle" fill="#000" font-weight="bold" transform="translate(331.05 348.95) rotate(0.03)" stroke="#000" stroke-width="0.55" stroke-linejoin="round">*</text>
<text font-size="5.5" text-anchor="middle" fill="#000" font-weight="bold" transform="translate(331.05 352.65) rotate(0.03)" stroke="#000" stroke-width="0.55" stroke-linejoin="round">*</text>
<text font-size="5.5" text-anchor="middle" fill="#000" font-weight="bold" transform="translate(331.05 356.35) rotate(0.03)" stroke="#000" stroke-width="0.55" stroke-linejoin="round">*</text>
<rect x="224.90" y="397.70" width="4.3" height="4.3" fill="#000000"/>
<text font-size="7" text-anchor="start" fill="#000" stroke="#000" stroke-width="0.22" transform="translate(230.70 402.20) rotate(0.03)">24h</text>
<rect x="248.40" y="397.70" width="4.3" height="4.3" fill="#262626"/>
<text font-size="7" text-anchor="start" fill="#000" stroke="#000" stroke-width="0.22" transform="translate(254.20 402.20) rotate(0.03)">48h</text>
<rect x="272.00" y="397.70" width="4.3" height="4.3" fill="#7f7f7f"/>
<text font-size="7" text-anchor="start" fill="#000" stroke="#000" stroke-width="0.22" transform="translate(277.80 402.20) rotate(0.03)">72h</text>
<rect x="295.30" y="397.70" width="4.3" height="4.3" fill="#a6a6a6"/>
<text font-size="7" text-anchor="start" fill="#000" stroke="#000" stroke-width="0.22" transform="translate(301.10 402.20) rotate(0.03)">96h</text>
<rect x="319.30" y="397.70" width="4.3" height="4.3" fill="#d9d9d9"/>
<text font-size="7" text-anchor="start" fill="#000" stroke="#000" stroke-width="0.22" transform="translate(325.10 402.20) rotate(0.03)">120h</text>
<rect x="27.85" y="415.55" width="159.45" height="128.45" rx="1.3" fill="#fff" stroke="#b0b0b0" stroke-width="1.2"/>
<text font-size="9.6" text-anchor="middle" fill="#000" font-weight="bold" transform="translate(107.50 431.40) rotate(0.03) scale(0.9042 1)">RGC-5</text>
<text font-size="7.3" text-anchor="middle" fill="#000" font-weight="bold" transform="translate(107.50 441.60) rotate(0.03) scale(1.0159 1)">(Wood’s protocol)</text>
<text font-size="7.2" text-anchor="end" fill="#000" stroke="#000" stroke-width="0.22" transform="translate(51.30 456.75) rotate(0.03) scale(0.8000 1)">3</text>
<text font-size="7.2" text-anchor="end" fill="#000" stroke="#000" stroke-width="0.22" transform="translate(51.30 474.55) rotate(0.03) scale(0.8000 1)">2</text>
<text font-size="7.2" text-anchor="end" fill="#000" stroke="#000" stroke-width="0.22" transform="translate(51.30 492.35) rotate(0.03) scale(0.8000 1)">1</text>
<text font-size="7.2" text-anchor="end" fill="#000" stroke="#000" stroke-width="0.22" transform="translate(51.30 510.15) rotate(0.03) scale(0.8000 1)">0</text>
<path d="M58.60 452.95V509.35M55.80 453.55H58.60M55.80 471.35H58.60M55.80 489.15H58.60" stroke="#8a8a8a" stroke-width="1.3" fill="none"/>
<text font-size="6.4" text-anchor="middle" fill="#000" stroke="#000" stroke-width="0.22" transform="translate(41.80 476.20) rotate(-89.97) scale(0.9597 1)">Viability (Control = 1)</text>
<rect x="65.77" y="489.15" width="9.27" height="17.80" fill="#000000"/>
<path d="M70.41 488.97V489.33M68.81 488.97h3.2M68.81 489.33h3.2" stroke="#000" stroke-width="0.8" fill="none"/>
<rect x="75.04" y="489.15" width="9.27" height="17.80" fill="#262626"/>
<path d="M79.68 488.62V489.68M78.08 488.62h3.2M78.08 489.68h3.2" stroke="#000" stroke-width="0.8" fill="none"/>
<rect x="84.31" y="489.15" width="9.27" height="17.80" fill="#7f7f7f"/>
<path d="M88.95 488.62V489.68M87.35 488.62h3.2M87.35 489.68h3.2" stroke="#000" stroke-width="0.8" fill="none"/>
<rect x="93.58" y="489.15" width="9.27" height="17.80" fill="#a6a6a6"/>
<path d="M98.22 488.08V490.22M96.62 488.08h3.2M96.62 490.22h3.2" stroke="#000" stroke-width="0.8" fill="none"/>
<rect x="102.85" y="489.15" width="9.27" height="17.80" fill="#d9d9d9"/>
<path d="M107.49 488.26V490.04M105.89 488.26h3.2M105.89 490.04h3.2" stroke="#000" stroke-width="0.8" fill="none"/>
<rect x="125.57" y="494.31" width="9.27" height="12.64" fill="#000000"/>
<path d="M130.21 494.13V494.49M128.61 494.13h3.2M128.61 494.49h3.2" stroke="#000" stroke-width="0.8" fill="none"/>
<rect x="134.84" y="499.65" width="9.27" height="7.30" fill="#262626"/>
<path d="M139.48 499.47V499.83M137.88 499.47h3.2M137.88 499.83h3.2" stroke="#000" stroke-width="0.8" fill="none"/>
<rect x="144.11" y="500.54" width="9.27" height="6.41" fill="#7f7f7f"/>
<path d="M148.75 500.19V500.90M147.15 500.19h3.2M147.15 500.90h3.2" stroke="#000" stroke-width="0.8" fill="none"/>
<rect x="153.38" y="499.65" width="9.27" height="7.30" fill="#a6a6a6"/>
<path d="M158.02 499.12V500.19M156.42 499.12h3.2M156.42 500.19h3.2" stroke="#000" stroke-width="0.8" fill="none"/>
<rect x="162.65" y="464.05" width="9.27" height="42.90" fill="#d9d9d9"/>
<path d="M167.29 461.38V466.72M165.69 461.38h3.2M165.69 466.72h3.2" stroke="#000" stroke-width="0.8" fill="none"/>
<path d="M55.90 507.00H179.30M118.70 507.00v2.6M178.80 507.00v2.6" stroke="#787878" stroke-width="1.2" fill="none"/>
<text font-size="7" text-anchor="middle" fill="#000" stroke="#000" stroke-width="0.22" transform="translate(88.45 520.00) rotate(0.03) scale(1.0231 1)">Control</text>
<text font-size="6.8" text-anchor="middle" fill="#000" stroke="#000" stroke-width="0.22" transform="translate(148.75 519.70) rotate(0.03) scale(0.8322 1)">TSA</text>
<text font-size="5.5" text-anchor="middle" fill="#000" font-weight="bold" transform="translate(130.11 481.95) rotate(0.03)" stroke="#000" stroke-width="0.55" stroke-linejoin="round">*</text>
<text font-size="5.5" text-anchor="middle" fill="#000" font-weight="bold" transform="translate(130.11 485.65) rotate(0.03)" stroke="#000" stroke-width="0.55" stroke-linejoin="round">*</text>
<text font-size="5.5" text-anchor="middle" fill="#000" font-weight="bold" transform="translate(130.11 489.35) rotate(0.03)" stroke="#000" stroke-width="0.55" stroke-linejoin="round">*</text>
<text font-size="5.5" text-anchor="middle" fill="#000" font-weight="bold" transform="translate(139.38 488.85) rotate(0.03)" stroke="#000" stroke-width="0.55" stroke-linejoin="round">*</text>
<text font-size="5.5" text-anchor="middle" fill="#000" font-weight="bold" transform="translate(139.38 492.55) rotate(0.03)" stroke="#000" stroke-width="0.55" stroke-linejoin="round">*</text>
<text font-size="5.5" text-anchor="middle" fill="#000" font-weight="bold" transform="translate(139.38 496.25) rotate(0.03)" stroke="#000" stroke-width="0.55" stroke-linejoin="round">*</text>
<text font-size="5.5" text-anchor="middle" fill="#000" font-weight="bold" transform="translate(149.45 488.85) rotate(0.03)" stroke="#000" stroke-width="0.55" stroke-linejoin="round">*</text>
<text font-size="5.5" text-anchor="middle" fill="#000" font-weight="bold" transform="translate(149.45 492.55) rotate(0.03)" stroke="#000" stroke-width="0.55" stroke-linejoin="round">*</text>
<text font-size="5.5" text-anchor="middle" fill="#000" font-weight="bold" transform="translate(149.45 496.25) rotate(0.03)" stroke="#000" stroke-width="0.55" stroke-linejoin="round">*</text>
<text font-size="5.5" text-anchor="middle" fill="#000" font-weight="bold" transform="translate(157.92 488.85) rotate(0.03)" stroke="#000" stroke-width="0.55" stroke-linejoin="round">*</text>
<text font-size="5.5" text-anchor="middle" fill="#000" font-weight="bold" transform="translate(157.92 492.55) rotate(0.03)" stroke="#000" stroke-width="0.55" stroke-linejoin="round">*</text>
<text font-size="5.5" text-anchor="middle" fill="#000" font-weight="bold" transform="translate(157.92 496.25) rotate(0.03)" stroke="#000" stroke-width="0.55" stroke-linejoin="round">*</text>
<text font-size="5.5" text-anchor="middle" fill="#000" font-weight="bold" transform="translate(167.19 450.15) rotate(0.03)" stroke="#000" stroke-width="0.55" stroke-linejoin="round">*</text>
<text font-size="5.5" text-anchor="middle" fill="#000" font-weight="bold" transform="translate(167.19 453.85) rotate(0.03)" stroke="#000" stroke-width="0.55" stroke-linejoin="round">*</text>
<text font-size="5.5" text-anchor="middle" fill="#000" font-weight="bold" transform="translate(167.19 457.55) rotate(0.03)" stroke="#000" stroke-width="0.55" stroke-linejoin="round">*</text>
<rect x="60.80" y="531.40" width="4.3" height="4.3" fill="#000000"/>
<text font-size="7" text-anchor="start" fill="#000" stroke="#000" stroke-width="0.22" transform="translate(66.60 535.90) rotate(0.03)">24h</text>
<rect x="85.70" y="531.40" width="4.3" height="4.3" fill="#262626"/>
<text font-size="7" text-anchor="start" fill="#000" stroke="#000" stroke-width="0.22" transform="translate(91.50 535.90) rotate(0.03)">48h</text>
<rect x="110.30" y="531.40" width="4.3" height="4.3" fill="#7f7f7f"/>
<text font-size="7" text-anchor="start" fill="#000" stroke="#000" stroke-width="0.22" transform="translate(116.10 535.90) rotate(0.03)">72h</text>
<rect x="133.60" y="531.40" width="4.3" height="4.3" fill="#a6a6a6"/>
<text font-size="7" text-anchor="start" fill="#000" stroke="#000" stroke-width="0.22" transform="translate(139.40 535.90) rotate(0.03)">96h</text>
<rect x="157.60" y="531.40" width="4.3" height="4.3" fill="#d9d9d9"/>
<text font-size="7" text-anchor="start" fill="#000" stroke="#000" stroke-width="0.22" transform="translate(163.40 535.90) rotate(0.03)">120h</text>
<rect x="192.15" y="415.55" width="159.45" height="128.45" rx="1.3" fill="#fff" stroke="#b0b0b0" stroke-width="1.2"/>
<text font-size="9.6" text-anchor="middle" fill="#000" font-weight="bold" transform="translate(271.80 431.40) rotate(0.03) scale(1.0374 1)">661W</text>
<text font-size="7.3" text-anchor="middle" fill="#000" font-weight="bold" transform="translate(271.80 441.60) rotate(0.03) scale(1.0159 1)">(Wood’s protocol)</text>
<text font-size="7.2" text-anchor="end" fill="#000" stroke="#000" stroke-width="0.22" transform="translate(215.60 456.75) rotate(0.03) scale(0.8000 1)">3</text>
<text font-size="7.2" text-anchor="end" fill="#000" stroke="#000" stroke-width="0.22" transform="translate(215.60 474.55) rotate(0.03) scale(0.8000 1)">2</text>
<text font-size="7.2" text-anchor="end" fill="#000" stroke="#000" stroke-width="0.22" transform="translate(215.60 492.35) rotate(0.03) scale(0.8000 1)">1</text>
<text font-size="7.2" text-anchor="end" fill="#000" stroke="#000" stroke-width="0.22" transform="translate(215.60 510.15) rotate(0.03) scale(0.8000 1)">0</text>
<path d="M222.90 452.95V509.35M220.10 453.55H222.90M220.10 471.35H222.90M220.10 489.15H222.90" stroke="#8a8a8a" stroke-width="1.3" fill="none"/>
<text font-size="6.4" text-anchor="middle" fill="#000" stroke="#000" stroke-width="0.22" transform="translate(206.10 476.20) rotate(-89.97) scale(0.9597 1)">Viability (Control = 1)</text>
<rect x="229.95" y="489.15" width="9.20" height="17.80" fill="#000000"/>
<path d="M234.55 488.62V489.68M232.95 488.62h3.2M232.95 489.68h3.2" stroke="#000" stroke-width="0.8" fill="none"/>
<rect x="239.15" y="489.15" width="9.20" height="17.80" fill="#262626"/>
<path d="M243.75 488.62V489.68M242.15 488.62h3.2M242.15 489.68h3.2" stroke="#000" stroke-width="0.8" fill="none"/>
<rect x="248.35" y="489.15" width="9.20" height="17.80" fill="#7f7f7f"/>
<path d="M252.95 488.62V489.68M251.35 488.62h3.2M251.35 489.68h3.2" stroke="#000" stroke-width="0.8" fill="none"/>
<rect x="257.55" y="489.15" width="9.20" height="17.80" fill="#a6a6a6"/>
<path d="M262.15 488.44V489.86M260.55 488.44h3.2M260.55 489.86h3.2" stroke="#000" stroke-width="0.8" fill="none"/>
<rect x="266.75" y="489.15" width="9.20" height="17.80" fill="#d9d9d9"/>
<path d="M271.35 488.44V489.86M269.75 488.44h3.2M269.75 489.86h3.2" stroke="#000" stroke-width="0.8" fill="none"/>
<rect x="289.75" y="495.74" width="9.20" height="11.21" fill="#000000"/>
<path d="M294.35 495.02V496.45M292.75 495.02h3.2M292.75 496.45h3.2" stroke="#000" stroke-width="0.8" fill="none"/>
<rect x="298.95" y="501.79" width="9.20" height="5.16" fill="#262626"/>
<path d="M303.55 501.61V501.97M301.95 501.61h3.2M301.95 501.97h3.2" stroke="#000" stroke-width="0.8" fill="none"/>
<rect x="308.15" y="504.10" width="9.20" height="2.85" fill="#7f7f7f"/>
<path d="M312.75 503.92V504.28M311.15 503.92h3.2M311.15 504.28h3.2" stroke="#000" stroke-width="0.8" fill="none"/>
<rect x="317.35" y="499.65" width="9.20" height="7.30" fill="#a6a6a6"/>
<path d="M321.95 499.47V499.83M320.35 499.47h3.2M320.35 499.83h3.2" stroke="#000" stroke-width="0.8" fill="none"/>
<rect x="326.55" y="498.76" width="9.20" height="8.19" fill="#d9d9d9"/>
<path d="M331.15 498.58V498.94M329.55 498.58h3.2M329.55 498.94h3.2" stroke="#000" stroke-width="0.8" fill="none"/>
<path d="M220.20 507.00H343.60M283.00 507.00v2.6M343.10 507.00v2.6" stroke="#787878" stroke-width="1.2" fill="none"/>
<text font-size="7" text-anchor="middle" fill="#000" stroke="#000" stroke-width="0.22" transform="translate(252.75 520.00) rotate(0.03) scale(1.0231 1)">Control</text>
<text font-size="6.8" text-anchor="middle" fill="#000" stroke="#000" stroke-width="0.22" transform="translate(312.55 519.70) rotate(0.03) scale(0.8322 1)">TSA</text>
<text font-size="5.5" text-anchor="middle" fill="#000" font-weight="bold" transform="translate(294.25 482.05) rotate(0.03)" stroke="#000" stroke-width="0.55" stroke-linejoin="round">*</text>
<text font-size="5.5" text-anchor="middle" fill="#000" font-weight="bold" transform="translate(294.25 485.75) rotate(0.03)" stroke="#000" stroke-width="0.55" stroke-linejoin="round">*</text>
<text font-size="5.5" text-anchor="middle" fill="#000" font-weight="bold" transform="translate(294.25 489.45) rotate(0.03)" stroke="#000" stroke-width="0.55" stroke-linejoin="round">*</text>
<text font-size="5.5" text-anchor="middle" fill="#000" font-weight="bold" transform="translate(303.45 488.95) rotate(0.03)" stroke="#000" stroke-width="0.55" stroke-linejoin="round">*</text>
<text font-size="5.5" text-anchor="middle" fill="#000" font-weight="bold" transform="translate(303.45 492.65) rotate(0.03)" stroke="#000" stroke-width="0.55" stroke-linejoin="round">*</text>
<text font-size="5.5" text-anchor="middle" fill="#000" font-weight="bold" transform="translate(303.45 496.35) rotate(0.03)" stroke="#000" stroke-width="0.55" stroke-linejoin="round">*</text>
<text font-size="5.5" text-anchor="middle" fill="#000" font-weight="bold" transform="translate(312.65 493.25) rotate(0.03)" stroke="#000" stroke-width="0.55" stroke-linejoin="round">*</text>
<text font-size="5.5" text-anchor="middle" fill="#000" font-weight="bold" transform="translate(312.65 496.95) rotate(0.03)" stroke="#000" stroke-width="0.55" stroke-linejoin="round">*</text>
<text font-size="5.5" text-anchor="middle" fill="#000" font-weight="bold" transform="translate(312.65 500.65) rotate(0.03)" stroke="#000" stroke-width="0.55" stroke-linejoin="round">*</text>
<text font-size="5.5" text-anchor="middle" fill="#000" font-weight="bold" transform="translate(321.85 487.25) rotate(0.03)" stroke="#000" stroke-width="0.55" stroke-linejoin="round">*</text>
<text font-size="5.5" text-anchor="middle" fill="#000" font-weight="bold" transform="translate(321.85 490.95) rotate(0.03)" stroke="#000" stroke-width="0.55" stroke-linejoin="round">*</text>
<text font-size="5.5" text-anchor="middle" fill="#000" font-weight="bold" transform="translate(321.85 494.65) rotate(0.03)" stroke="#000" stroke-width="0.55" stroke-linejoin="round">*</text>
<text font-size="5.5" text-anchor="middle" fill="#000" font-weight="bold" transform="translate(331.05 486.95) rotate(0.03)" stroke="#000" stroke-width="0.55" stroke-linejoin="round">*</text>
<text font-size="5.5" text-anchor="middle" fill="#000" font-weight="bold" transform="translate(331.05 490.65) rotate(0.03)" stroke="#000" stroke-width="0.55" stroke-linejoin="round">*</text>
<text font-size="5.5" text-anchor="middle" fill="#000" font-weight="bold" transform="translate(331.05 494.35) rotate(0.03)" stroke="#000" stroke-width="0.55" stroke-linejoin="round">*</text>
<rect x="224.90" y="531.40" width="4.3" height="4.3" fill="#000000"/>
<text font-size="7" text-anchor="start" fill="#000" stroke="#000" stroke-width="0.22" transform="translate(230.70 535.90) rotate(0.03)">24h</text>
<rect x="248.40" y="531.40" width="4.3" height="4.3" fill="#262626"/>
<text font-size="7" text-anchor="start" fill="#000" stroke="#000" stroke-width="0.22" transform="translate(254.20 535.90) rotate(0.03)">48h</text>
<rect x="272.00" y="531.40" width="4.3" height="4.3" fill="#7f7f7f"/>
<text font-size="7" text-anchor="start" fill="#000" stroke="#000" stroke-width="0.22" transform="translate(277.80 535.90) rotate(0.03)">72h</text>
<rect x="295.30" y="531.40" width="4.3" height="4.3" fill="#a6a6a6"/>
<text font-size="7" text-anchor="start" fill="#000" stroke="#000" stroke-width="0.22" transform="translate(301.10 535.90) rotate(0.03)">96h</text>
<rect x="319.30" y="531.40" width="4.3" height="4.3" fill="#d9d9d9"/>
<text font-size="7" text-anchor="start" fill="#000" stroke="#000" stroke-width="0.22" transform="translate(325.10 535.90) rotate(0.03)">120h</text>
</svg>
</body></html>
